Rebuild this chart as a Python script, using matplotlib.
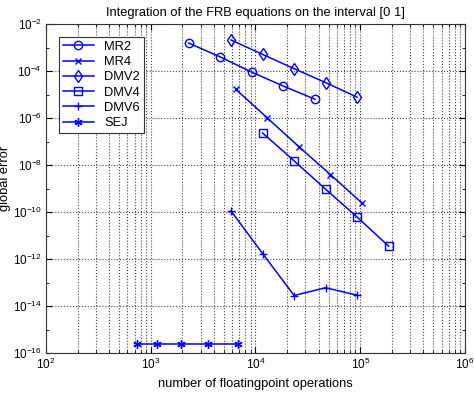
import numpy as np
import matplotlib
matplotlib.use('Agg')
import matplotlib.pyplot as plt
from matplotlib.ticker import LogLocator, FixedLocator, NullFormatter

plt.rcParams['font.family'] = ['Liberation Sans', 'DejaVu Sans']
plt.rcParams['mathtext.default'] = 'regular'
plt.rcParams['font.size'] = 9

# data (flops, global error)
mr2_x = [2300, 4600, 9200, 18400, 37000]
mr2_y = [1.55e-3, 4.0e-4, 9.0e-5, 2.3e-5, 6.3e-6]

mr4_x = [6500, 13000, 26000, 52000, 104000]
mr4_y = [1.66e-5, 1.0e-6, 6.0e-8, 3.9e-9, 2.4e-10]

dmv2_x = [5850, 11700, 23400, 46800, 93000]
dmv2_y = [2.1e-3, 5.1e-4, 1.26e-4, 3.2e-5, 7.8e-6]

dmv4_x = [11700, 23400, 46800, 93000, 187000]
dmv4_y = [2.3e-7, 1.5e-8, 9.3e-10, 6.2e-11, 3.5e-12]

dmv6_x = [5850, 11700, 23400, 46800, 93000]
dmv6_y = [1.1e-10, 1.7e-12, 2.8e-14, 6.0e-14, 2.9e-14]

sej_x = [735, 1140, 1950, 3550, 6750]
sej_y = [2.5e-16, 2.5e-16, 2.5e-16, 2.5e-16, 2.5e-16]

fig = plt.figure(figsize=(4.74, 3.95), dpi=100)
ax = fig.add_axes([0.097, 0.1063, 0.884, 0.8328])

blue = '#0000ff'
kw = dict(color=blue, lw=1.1, mfc='none', mew=1.0)
ax.loglog(mr2_x, mr2_y, marker='o', ms=6, label='MR2', **kw)
ax.loglog(mr4_x, mr4_y, marker='x', ms=4.5, label='MR4', **kw)
ax.loglog(dmv2_x, dmv2_y, marker='d', ms=6.5, label='DMV2', **kw)
ax.loglog(dmv4_x, dmv4_y, marker='s', ms=5.5, label='DMV4', **kw)
ax.loglog(dmv6_x, dmv6_y, marker='+', ms=6, label='DMV6', **kw)
ax.loglog(sej_x, sej_y, marker=(6, 2, 0), ms=6, label='SEJ', **kw)

ax.set_xlim(1e2, 1e6)
ax.set_ylim(1e-16, 1e-2)

ax.xaxis.set_major_locator(LogLocator(base=10, numticks=10))
ax.xaxis.set_minor_locator(LogLocator(base=10, subs=np.arange(2, 10), numticks=20))
ax.xaxis.set_minor_formatter(NullFormatter())
ax.yaxis.set_major_locator(FixedLocator([10.0**k for k in range(-16, -1, 2)]))
ax.yaxis.set_minor_locator(FixedLocator([10.0**k for k in range(-15, -2, 2)]))
ax.yaxis.set_minor_formatter(NullFormatter())

ax.tick_params(which='both', direction='in', top=True, right=True, labelsize=8.5)
ax.tick_params(which='major', length=4, pad=3)
ax.tick_params(which='minor', length=2)
for sp in ax.spines.values():
    sp.set_color('#333333')

ax.grid(True, which='major', axis='both', ls=':', lw=0.8, color='#444444')
ax.grid(True, which='minor', axis='x', ls=':', lw=0.8, color='#444444')

ax.set_title('Integration of the FRB equations on the interval [0 1]', fontsize=9.3)
ax.set_xlabel('number of floatingpoint operations', fontsize=9.3)
ax.set_ylabel('global error', fontsize=9.3)
ax.yaxis.set_label_coords(-0.083, 0.53)

leg = ax.legend(loc='upper left', fancybox=False, framealpha=1, edgecolor='#333333',
                fontsize=9.3, handlelength=2.4, borderaxespad=1.0, labelspacing=0.25,
                borderpad=0.3)
leg.get_frame().set_linewidth(0.8)

fig.savefig('out.png', dpi=100)
